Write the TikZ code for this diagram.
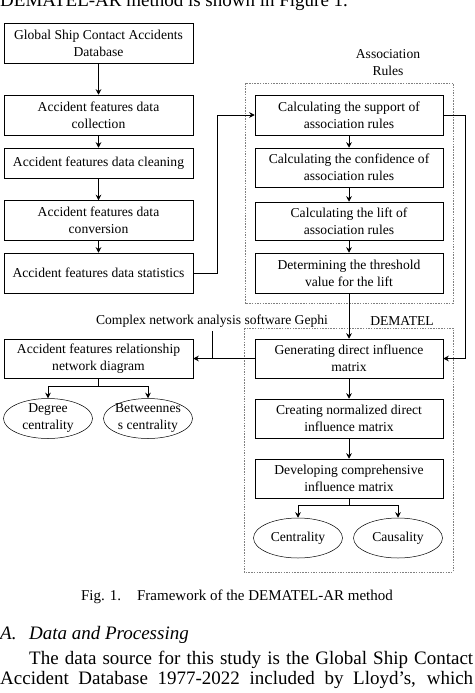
\documentclass[tikz,border=0pt]{standalone}
\RequirePackage{fontspec}
\RequirePackage{tikz}
\usetikzlibrary{shapes.geometric}
\usetikzlibrary{arrows.meta}
\setmainfont{Liberation Serif}
\newcommand\boxfont{\fontsize{13.6}{17}\selectfont}
\newcommand\capfont{\fontsize{15}{18}\selectfont}
\newcommand\bodyfont{\fontsize{19}{22}\selectfont}

\begin{document}
\begin{tikzpicture}[>={Stealth[length=5.5pt,width=5.5pt]},x=1pt,y=1pt,
        box/.style={draw,line width=0.5pt,minimum width=189pt,minimum height=40pt,inner sep=1pt,align=center,font=\boxfont},
        oval/.style={draw,ellipse,line width=0.5pt,minimum width=89pt,minimum height=40pt,inner sep=-6pt,align=center,font=\boxfont},
        lbl/.style={align=center,font=\boxfont},
        txt/.style={anchor=base west,inner sep=0pt},
        link/.style={line width=0.9pt},
        group/.style={draw=gray,line width=0.6pt,dash pattern=on 1.5pt off 1.2pt}]
    \clip (0,0) rectangle (474,-693);
    \node[txt,font=\bodyfont] (intro) at (0,-7) {DEMATEL-AR method is shown in Figure 1.};
    \node[box] (db) at (98.5,-43) {Global Ship Contact Accidents\\Database};
    \node[box] (coll) at (98.5,-115) {Accident features data\\collection};
    \node[box,minimum height=30pt] (clean) at (98.5,-163) {Accident features data cleaning};
    \node[box] (conv) at (98.5,-220.5) {Accident features data\\conversion};
    \node[box] (stat) at (98.5,-273) {Accident features data statistics};
    \node[box,minimum height=39pt] (net) at (98.5,-358.5) {Accident features relationship\\network diagram};
    \node[oval] (deg) at (48,-418.5) {Degree\\centrality};
    \node[oval] (bet) at (148,-418.5) {Betweennes\\s centrality};
    \draw[group] (245,-83) rectangle (453,-303);
    \node[lbl] (arlbl) at (388,-63) {Association\\Rules};
    \node[box,minimum width=188pt] (sup) at (349,-115) {Calculating the support of\\association rules};
    \node[box,minimum width=188pt,minimum height=39pt] (conf) at (349,-167.5) {Calculating the confidence of\\association rules};
    \node[box,minimum width=188pt,minimum height=38pt] (lift) at (349,-221) {Calculating the lift of\\association rules};
    \node[box,minimum width=188pt] (thr) at (349,-273) {Determining the threshold\\value for the lift};
    \draw[group] (244,-328) rectangle (453,-572);
    \node[lbl] (demlbl) at (402,-321) {DEMATEL};
    \node[lbl] (gephi) at (212,-321) {Complex network analysis software Gephi};
    \node[box,minimum width=188pt,minimum height=39pt] (gen) at (349,-358.5) {Generating direct influence\\matrix};
    \node[box,minimum width=188pt,minimum height=39pt] (norm) at (349,-418.5) {Creating normalized direct\\influence matrix};
    \node[box,minimum width=188pt,minimum height=39pt] (comp) at (349,-478.5) {Developing comprehensive\\influence matrix};
    \node[oval] (cen) at (298,-538) {Centrality};
    \node[oval] (cau) at (398,-538) {Causality};
    \draw[->,link] (db) -- (coll);
    \draw[->,link] (coll) -- (clean);
    \draw[->,link] (clean) -- (conv);
    \draw[->,link] (conv) -- (stat);
    \draw[->,link] (stat.east) -- ++(24,0) |- (sup.west);
    \draw[->,link] (sup) -- (conf);
    \draw[->,link] (conf) -- (lift);
    \draw[->,link] (lift) -- (thr);
    \draw[->,link] (thr) -- (gen);
    \draw[->,link] (sup.east) -- ++(22,0) |- (gen.east);
    \draw[->,link] (gen.west) -- (net.east);
    \draw[link] (gephi.south) -- (gephi.south |- gen.west);
    \draw[->,link] (net.south) -- ++(0,-8) -| (deg.north);
    \draw[->,link] (net.south) -- ++(0,-8) -| (bet.north);
    \draw[->,link] (gen) -- (norm);
    \draw[->,link] (norm) -- (comp);
    \draw[->,link] (comp.south) -- ++(0,-7) -| (cen.north);
    \draw[->,link] (comp.south) -- ++(0,-7) -| (cau.north);
    \node[anchor=base,font=\capfont] (cap) at (237,-600) {Fig. 1.\hspace{16pt}Framework of the DEMATEL-AR method};
    \node[txt,font=\bodyfont\itshape] (sec) at (0,-639) {A.\hspace{12.5pt}Data and Processing};
    \node[txt,font=\bodyfont] (par1) at (29,-664) {\makebox[444pt][s]{The data source for this study is the Global Ship Contact}};
    \node[txt,font=\bodyfont] (par2) at (0,-684) {\makebox[473pt][s]{Accident Database 1977-2022 included by Lloyd\char"27 s, which}};
\end{tikzpicture}
\end{document}
